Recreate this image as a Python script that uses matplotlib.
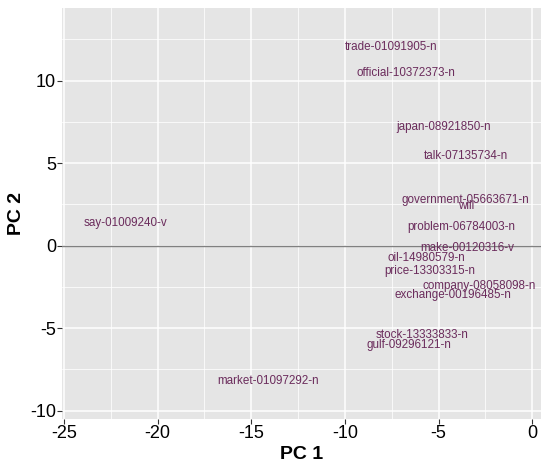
import numpy as np
import matplotlib
matplotlib.use("Agg")
import matplotlib.pyplot as plt

plt.rcParams['font.family'] = ['Liberation Sans', 'DejaVu Sans']
plt.rcParams['axes.unicode_minus'] = False

# word labels and their PCA coordinates
words = ["trade-01091905-n", "official-10372373-n", "japan-08921850-n",
         "talk-07135734-n", "government-05663671-n", "will",
         "problem-06784003-n", "make-00120316-v", "oil-14980579-n",
         "price-13303315-n", "company-08058098-n", "exchange-00196485-n",
         "stock-13333833-n", "gulf-09296121-n", "say-01009240-v",
         "market-01097292-n"]
pc1 = [-7.53, -6.74, -4.71, -3.54, -3.59, -3.54, -3.81, -3.49, -5.67,
       -5.46, -2.85, -4.23, -5.88, -6.58, -21.7, -14.08]
pc2 = [12.06, 10.48, 7.21, 5.45, 2.79, 2.42, 1.15, -0.12, -0.73,
       -1.52, -2.48, -2.97, -5.39, -6.0, 1.39, -8.18]

xticks = [-25, -20, -15, -10, -5, 0]
yticks = [-10, -5, 0, 5, 10]

fig = plt.figure(figsize=(5.5, 4.69), dpi=100)
ax = fig.add_axes([0.113, 0.107, 0.871, 0.876])
ax.set_facecolor("#E5E5E5")

ax.set_xlim(-25.1, 0.48)
ax.set_ylim(-10.5, 14.4)
ax.set_xticks(xticks)
ax.set_yticks(yticks)
ax.set_xticks(np.arange(-22.5, 0.5, 5), minor=True)
ax.set_yticks(np.arange(-7.5, 14, 5), minor=True)
ax.grid(which="major", color="white", linewidth=1.1)
ax.grid(which="minor", color="white", linewidth=0.55)
ax.set_axisbelow(True)
for s in ax.spines.values():
    s.set_visible(False)
ax.tick_params(which="major", length=3.5, color="#333333", labelsize=13,
               labelcolor="black", pad=1)
ax.tick_params(which="minor", length=0)

ax.axhline(0, color="#808080", linewidth=1.0, zorder=2)

for w, x, y in zip(words, pc1, pc2):
    ax.text(x, y, w, ha="center", va="center", fontsize=8.4, color="#6B2C5C",
            zorder=3)

ax.set_xlabel("PC 1", fontsize=14, fontweight="bold")
ax.set_ylabel("PC 2", fontsize=14, fontweight="bold")
ax.xaxis.set_label_coords(0.5, -0.067)
ax.yaxis.set_label_coords(-0.077, 0.5)

fig.savefig("out.png", dpi=100)
